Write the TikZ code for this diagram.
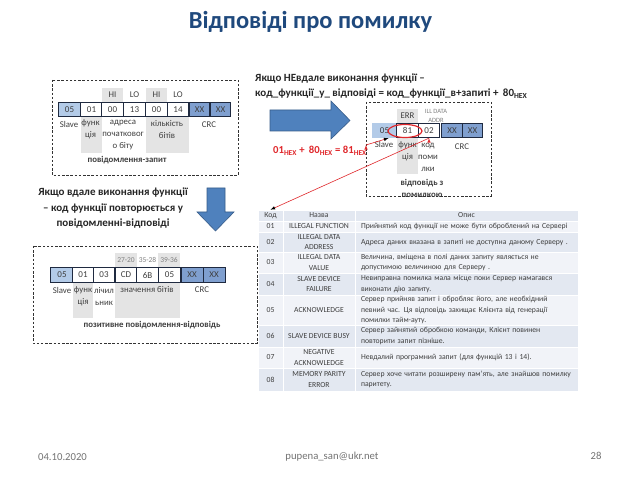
\documentclass[tikz,border=0pt]{standalone}
\usepackage{fontspec}
\setmainfont{Carlito}
\usepackage{xcolor}
\definecolor{titleblue}{HTML}{1F497D}
\definecolor{arrowblue}{HTML}{4F81BD}
\definecolor{arrowedge}{HTML}{385D8A}
\definecolor{lightcell}{HTML}{B3CBE8}
\definecolor{darkcell}{HTML}{7F9FCF}
\definecolor{celledge}{HTML}{1F2A40}
\definecolor{band}{HTML}{E4E4E4}
\definecolor{inktext}{HTML}{3F3F3F}
\definecolor{rowa}{HTML}{E3E8F1}
\definecolor{rowb}{HTML}{F1F3F8}
\definecolor{errred}{HTML}{E0282C}
\tikzset{
    cell/.style={draw=celledge,line width=0.8pt,fill=white,inner sep=0pt,minimum width=21.5pt,minimum height=14.5pt,text=inktext,font=\fontsize{9}{10}\selectfont},
    cellslave/.style={cell,fill=lightcell,minimum width=23pt},
    cellcrc/.style={cell,fill=darkcell,minimum width=20.5pt},
    lab/.style={inner sep=0pt,text=inktext,font=\fontsize{8.8}{12}\selectfont},
    labbold/.style={lab,font=\bfseries\fontsize{8.8}{12}\selectfont},
    smalllab/.style={inner sep=0pt,text=gray,font=\fontsize{6.5}{9}\selectfont},
    headline/.style={inner sep=0pt,text=black!85,font=\bfseries\fontsize{11}{15.5}\selectfont},
    bigarrow/.style={fill=arrowblue,draw=arrowedge,line width=0.6pt},
    framebox/.style={draw=black!80,line width=0.8pt,dashed,dash pattern=on 2.5pt off 1.7pt},
    footer/.style={inner sep=0pt,text=black!55,font=\fontsize{10.7}{12}\selectfont},
    redarrow/.style={draw=errred,line width=0.6pt,-latex},
    tabcell/.style={draw=white,line width=0.6pt,inner sep=0pt,text=inktext,align=center,font=\fontsize{7.7}{10.4}\selectfont},
    tabcode/.style={tabcell,minimum width=25pt},
    tabname/.style={tabcell,minimum width=72pt},
    tabdesc/.style={tabcell,align=left,text width=211pt,inner xsep=6pt},
}
\begin{document}
\begin{tikzpicture}[x=1pt,y=-1pt]
    \useasboundingbox[fill=white] (0,0) rectangle (638,478);
    \draw (310.5,22) node[inner sep=0pt,text=titleblue,font=\bfseries\fontsize{24.5}{28}\selectfont] (title) {Відповіді про помилку};

    % request
    \draw[framebox] (52,80) rectangle (238,175);
    \fill[band] (102,88) rectangle (123,102);
    \fill[band] (146,88) rectangle (167,102);
    \fill[band] (81,117) rectangle (102,153);
    \fill[band] (146,117) rectangle (189,153);
    \draw (112.5,95) node[lab] (reqhia) {HI};
    \draw (134.5,95) node[lab] (reqloa) {LO};
    \draw (156.5,95) node[lab] (reqhib) {HI};
    \draw (178,95) node[lab] (reqlob) {LO};
    \draw (69.5,109.5) node[cellslave] (reqslave) {05};
    \draw (91.5,109.5) node[cell] (reqfunc) {01};
    \draw (112.5,109.5) node[cell] (reqaddra) {00};
    \draw (134.5,109.5) node[cell] (reqaddrb) {13};
    \draw (156.5,109.5) node[cell] (reqnuma) {00};
    \draw (178,109.5) node[cell] (reqnumb) {14};
    \draw (199.5,109.5) node[cellcrc] (reqcrca) {XX};
    \draw (220.5,109.5) node[cellcrc] (reqcrcb) {XX};
    \draw (69,124) node[lab] (reqlslave) {Slave};
    \draw (90.5,129) node[lab,align=center] (reqlfunc) {функ\\ція};
    \draw (123,135) node[lab,align=center] (reqladdr) {адреса\\початковог\\о біту};
    \draw (167,129.5) node[lab,align=center] (reqlnum) {кількість\\бітів};
    \draw (209,125) node[lab] (reqlcrc) {CRC};
    \draw (127,160) node[labbold] (reqcap) {повідомлення-запит};

    % positive reply
    \draw (113,208.5) node[headline,align=center] (oktext) {Якщо вдале виконання функції\\– код функції повторюється у\\повідомленні-відповіді};
    \draw[bigarrow] (207,188) -- (225,188) -- (225,212) -- (234,212) -- (215.5,231) -- (197,212) -- (207,212) -- cycle;
    \draw[framebox] (33,246) rectangle (257,343);
    \fill[band] (115,253) rectangle (137,267);
    \fill[band] (158,253) rectangle (180,267);
    \fill[band] (73,283) rectangle (93,318);
    \fill[band] (115,283) rectangle (180,318);
    \draw (126,260) node[smalllab,font=\fontsize{7.5}{9}\selectfont] (okbita) {27-20};
    \draw (147.5,260) node[smalllab,font=\fontsize{7.5}{9}\selectfont] (okbitb) {35-28};
    \draw (169,260) node[smalllab,font=\fontsize{7.5}{9}\selectfont] (okbitc) {39-36};
    \draw (62,275) node[cellslave] (okslave) {05};
    \draw (83,275) node[cell] (okfunc) {01};
    \draw (104,275) node[cell] (okcount) {03};
    \draw (126,275) node[cell] (okvala) {CD};
    \draw (147.5,275) node[cell] (okvalb) {6B};
    \draw (169.5,275) node[cell] (okvalc) {05};
    \draw (192,275) node[cellcrc,minimum width=22pt] (okcrca) {XX};
    \draw (214,275) node[cellcrc,minimum width=22pt] (okcrcb) {XX};
    \draw (62,290) node[lab] (oklslave) {Slave};
    \draw (83,296) node[lab,align=center] (oklfunc) {функ\\ція};
    \draw (104,296) node[lab,align=center] (oklcount) {лічил\\ьник};
    \draw (147,290) node[lab] (oklval) {значення бітів};
    \draw (202,290) node[lab] (oklcrc) {CRC};
    \draw (152,325) node[labbold] (okcap) {позитивне повідомлення-відповідь};

    % error reply
    \draw (255,79) node[headline,anchor=west] (badtexta) {Якщо НЕвдале виконання функції –};
    \draw (255,94) node[headline,anchor=west] (badtextb) {код\_функції\_у\_ відповіді = код\_функції\_в+запиті +\, 80\textsubscript{HEX}};
    \draw[bigarrow] (270,110) -- (331,110) -- (331,101) -- (350,120.5) -- (331,139) -- (331,131) -- (270,131) -- cycle;
    \fill[band] (397,109) rectangle (418,174);
    \draw (407.5,116) node[lab] (errerr) {ERR};
    \draw (436,115.5) node[smalllab,align=center] (errill) {ILL DATA\\ADDR};
    \draw (384.5,130.5) node[cellslave,draw=lightcell,minimum width=25pt] (errslave) {05};
    \draw (407.5,130.5) node[cell] (errfunc) {81};
    \draw (429,130.5) node[cell] (errcode) {02};
    \draw (452,130.5) node[cellcrc] (errcrca) {XX};
    \draw (472.5,130.5) node[cellcrc] (errcrcb) {XX};
    \draw (384,144) node[lab] (errlslave) {Slave};
    \draw (407.5,151) node[lab,align=center] (errlfunc) {функ\\ція};
    \draw (428,157) node[lab,align=center] (errlcode) {код\\поми\\лки};
    \draw (462,147) node[lab] (errlcrc) {CRC};
    \draw (422,188) node[labbold,align=center] (errcap) {відповідь з\\помилкою};
    \draw[framebox] (366,102) rectangle (491,196);
    \draw[draw=errred,line width=1.2pt] (405,131) ellipse (17pt and 6.5pt);
    \draw (320,151) node[inner sep=0pt,text=errred,font=\bfseries\fontsize{10.7}{12}\selectfont] (redsum) {01\textsubscript{HEX} +\, 80\textsubscript{HEX} = 81\textsubscript{HEX}};
    \coordinate (redstart) at (366,145);

    % table
    \draw (270.5,215.5) node[tabcode,fill=rowa,minimum height=11pt] (hcode) {Код};
    \draw (319,215.5) node[tabname,fill=rowa,minimum height=11pt] (hname) {Назва};
    \draw (466.5,215.5) node[tabdesc,fill=rowa,minimum height=11pt,align=center] (hdesc) {Опис};
    \draw (270.5,226.5) node[tabcode,fill=rowb,minimum height=11pt] (codea) {01};
    \draw (319,226.5) node[tabname,fill=rowb,minimum height=11pt] (namea) {ILLEGAL FUNCTION};
    \draw (466.5,226.5) node[tabdesc,fill=rowb,minimum height=11pt] (desca) {Прийнятий код функції не може бути оброблений на Сервері};
    \draw (270.5,242) node[tabcode,fill=rowa,minimum height=20pt] (codeb) {02};
    \draw (319,242) node[tabname,fill=rowa,minimum height=20pt] (nameb) {ILLEGAL DATA\\ADDRESS};
    \draw (466.5,242) node[tabdesc,fill=rowa,minimum height=20pt] (descb) {Адреса даних вказана в запиті не доступна даному Серверу .};
    \draw (270.5,262.5) node[tabcode,fill=rowb,minimum height=21pt] (codec) {03};
    \draw (319,262.5) node[tabname,fill=rowb,minimum height=21pt] (namec) {ILLEGAL DATA\\VALUE};
    \draw (466.5,262.5) node[tabdesc,fill=rowb,minimum height=21pt] (descc) {Величина, вміщена в полі даних запиту являється не\\допустимою величиною для Серверу .};
    \draw (270.5,284) node[tabcode,fill=rowa,minimum height=22pt] (coded) {04};
    \draw (319,284) node[tabname,fill=rowa,minimum height=22pt] (named) {SLAVE DEVICE\\FAILURE};
    \draw (466.5,284) node[tabdesc,fill=rowa,minimum height=22pt] (descd) {Невиправна помилка мала місце поки Сервер намагався\\виконати дію запиту.};
    \draw (270.5,310) node[tabcode,fill=rowb,minimum height=30pt] (codee) {05};
    \draw (319,310) node[tabname,fill=rowb,minimum height=30pt] (namee) {ACKNOWLEDGE};
    \draw (466.5,310) node[tabdesc,fill=rowb,minimum height=30pt] (desce) {Сервер прийняв запит і обробляє його, але необхідний\\певний час. Ця відповідь захищає Клієнта від генерації\\помилки тайм-ауту.};
    \draw (270.5,336) node[tabcode,fill=rowa,minimum height=22pt] (codef) {06};
    \draw (319,336) node[tabname,fill=rowa,minimum height=22pt] (namef) {SLAVE DEVICE BUSY};
    \draw (466.5,336) node[tabdesc,fill=rowa,minimum height=22pt] (descf) {Сервер зайнятий обробкою команди, Клієнт повинен\\повторити запит пізніше.};
    \draw (270.5,357.5) node[tabcode,fill=rowb,minimum height=21pt] (codeg) {07};
    \draw (319,357.5) node[tabname,fill=rowb,minimum height=21pt] (nameg) {NEGATIVE\\ACKNOWLEDGE};
    \draw (466.5,357.5) node[tabdesc,fill=rowb,minimum height=21pt] (descg) {Невдалий програмний запит (для функцій 13 і 14).};
    \draw (270.5,379.5) node[tabcode,fill=rowa,minimum height=23pt] (codeh) {08};
    \draw (319,379.5) node[tabname,fill=rowa,minimum height=23pt] (nameh) {MEMORY PARITY\\ERROR};
    \draw (466.5,379.5) node[tabdesc,fill=rowa,minimum height=23pt] (desch) {Сервер хоче читати розширену пам'ять, але знайшов помилку\\паритету.};

    \path[redarrow] (redstart) edge ([xshift=4pt]errslave.south);
    \path[redarrow] (errcode.south) edge (hcode.north);

    \draw (62.5,457) node[footer] (footdate) {04.10.2020};
    \draw (332,456.5) node[footer] (footmail) {pupena\_san@ukr.net};
    \draw (596,456) node[footer] (footpage) {28};
\end{tikzpicture}
\end{document}
